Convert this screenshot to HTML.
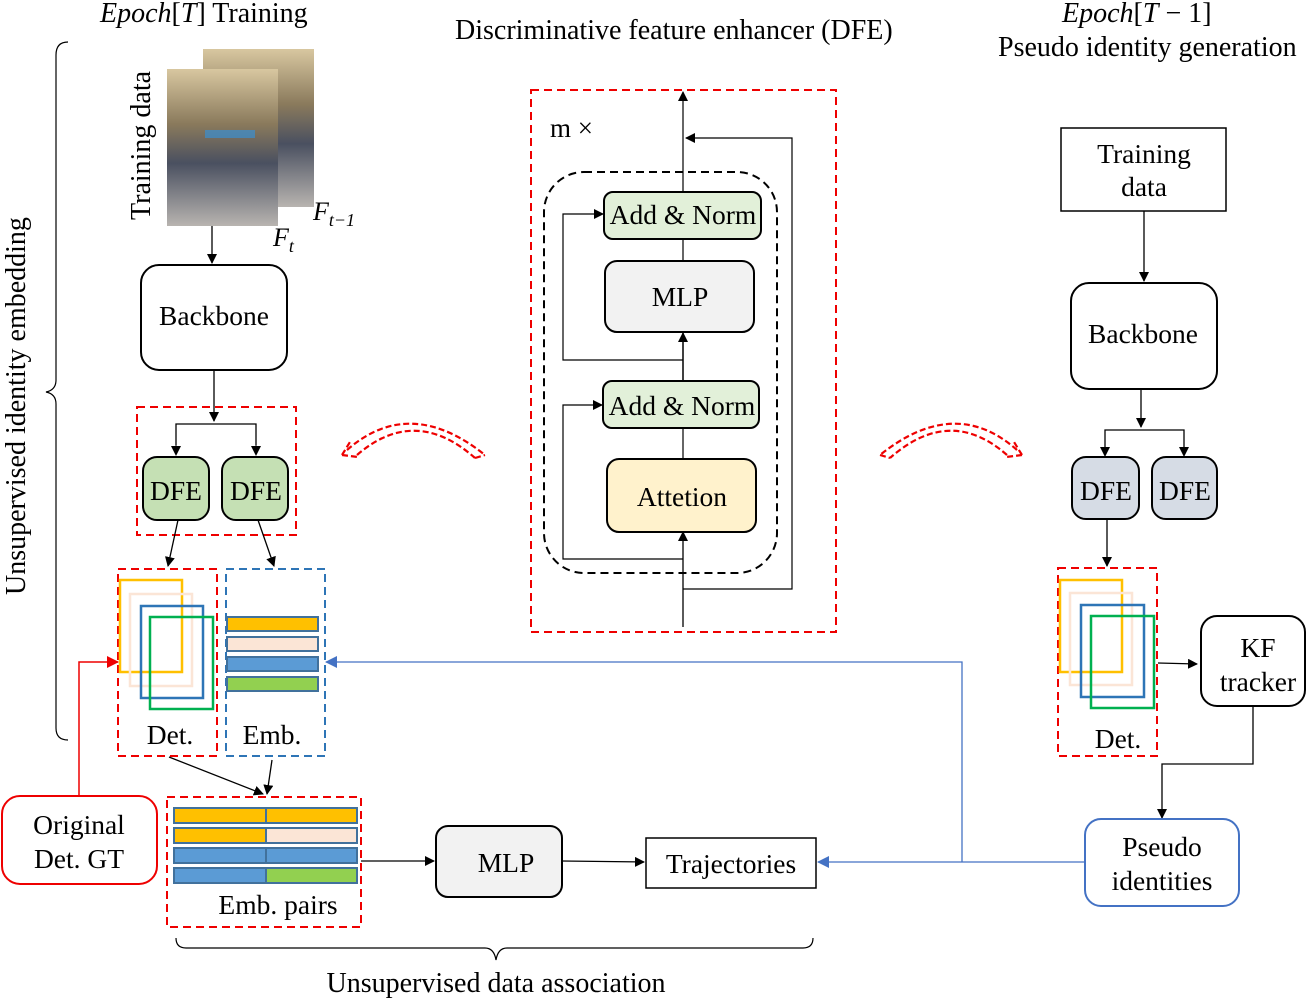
<!DOCTYPE html>
<html><head><meta charset="utf-8"><style>
html,body{margin:0;padding:0;background:#fff;}
svg{display:block;font-family:"Liberation Serif",serif;}
</style></head><body>
<svg width="1308" height="998" viewBox="0 0 1308 998" xmlns="http://www.w3.org/2000/svg">
<defs>
<marker id="a" markerWidth="10" markerHeight="10" refX="9" refY="5" orient="auto" markerUnits="userSpaceOnUse"><path d="M0,0 L10,5 L0,10 z" fill="#000"/></marker>
<marker id="ab" markerWidth="12" markerHeight="12" refX="11" refY="6" orient="auto" markerUnits="userSpaceOnUse"><path d="M0,0 L12,6 L0,12 z" fill="#4472c4"/></marker>
<marker id="ar" markerWidth="12" markerHeight="12" refX="11" refY="6" orient="auto" markerUnits="userSpaceOnUse"><path d="M0,0 L12,6 L0,12 z" fill="#e00"/></marker>
<linearGradient id="ph" x1="0" y1="0" x2="0" y2="1">
<stop offset="0" stop-color="#d8c7a0"/><stop offset="0.35" stop-color="#8a7a5c"/><stop offset="0.6" stop-color="#4a5060"/><stop offset="1" stop-color="#b8b4b0"/></linearGradient>
</defs>
<g font-size="27.5" fill="#000">
<!-- titles -->
<text x="100" y="22" font-size="28"><tspan font-style="italic">Epoch</tspan>[<tspan font-style="italic">T</tspan>] Training</text>
<text x="455" y="39" font-size="28">Discriminative feature enhancer (DFE)</text>
<text x="1062" y="22" font-size="28"><tspan font-style="italic">Epoch</tspan>[<tspan font-style="italic">T</tspan> − 1]</text>
<text x="998" y="56" font-size="28">Pseudo identity generation</text>

<!-- left brace -->
<path d="M68,42 Q56,42 56,55 L56,380 Q56,390 46,392 Q56,394 56,404 L56,728 Q56,740 68,740" fill="none" stroke="#000" stroke-width="1.2"/>
<text transform="translate(25,595) rotate(-90)" font-size="28">Unsupervised identity embedding</text>

<!-- photos -->
<rect x="203" y="49" width="111" height="158" fill="url(#ph)"/>
<rect x="167" y="69" width="111" height="157" fill="url(#ph)"/>
<rect x="205" y="130" width="50" height="8" fill="#3a8fd0" opacity="0.7"/>
<text transform="translate(150,220) rotate(-90)" font-size="28">Training data</text>
<text x="313" y="220" font-style="italic" font-size="26">F<tspan font-size="18" dy="6">t−1</tspan></text>
<text x="273" y="246" font-style="italic" font-size="26">F<tspan font-size="18" dy="6">t</tspan></text>
<line x1="212" y1="226" x2="212" y2="263" stroke="#000" stroke-width="1.3" marker-end="url(#a)"/>

<!-- backbone left -->
<rect x="141" y="265" width="146" height="105" rx="18" fill="#fff" stroke="#000" stroke-width="2"/>
<text x="214" y="325" text-anchor="middle">Backbone</text>
<line x1="214" y1="370" x2="214" y2="421" stroke="#000" stroke-width="1.3" marker-end="url(#a)"/>
<rect x="137" y="407" width="159" height="128" fill="none" stroke="#e00" stroke-width="2" stroke-dasharray="8,5"/>
<path d="M176,445 L176,424 L256,424 L256,445" fill="none" stroke="#000" stroke-width="1.3"/>
<line x1="176" y1="440" x2="176" y2="455" stroke="#000" marker-end="url(#a)"/>
<line x1="256" y1="440" x2="256" y2="455" stroke="#000" marker-end="url(#a)"/>
<rect x="143" y="457" width="66" height="63" rx="14" fill="#c5e0b4" stroke="#000" stroke-width="2"/>
<rect x="222" y="457" width="66" height="63" rx="14" fill="#c5e0b4" stroke="#000" stroke-width="2"/>
<text x="176" y="500" text-anchor="middle">DFE</text>
<text x="256" y="500" text-anchor="middle">DFE</text>
<line x1="178" y1="520" x2="168" y2="566" stroke="#000" stroke-width="1.3" marker-end="url(#a)"/>
<line x1="258" y1="520" x2="274" y2="566" stroke="#000" stroke-width="1.3" marker-end="url(#a)"/>

<!-- Det left -->
<rect x="118" y="569" width="99" height="187" fill="none" stroke="#e00" stroke-width="2" stroke-dasharray="8,5"/>
<rect x="120" y="580" width="62" height="92" fill="none" stroke="#ffc000" stroke-width="2.5"/>
<rect x="130" y="594" width="62" height="92" fill="none" stroke="#fbe5d6" stroke-width="2.5"/>
<rect x="141" y="606" width="62" height="92" fill="none" stroke="#2e75b6" stroke-width="2.5"/>
<rect x="150" y="617" width="63" height="92" fill="none" stroke="#00b050" stroke-width="2.5"/>
<text x="170" y="744" text-anchor="middle">Det.</text>
<!-- Emb left -->
<rect x="226" y="569" width="99" height="187" fill="none" stroke="#2e75b6" stroke-width="2" stroke-dasharray="8,5"/>
<rect x="227" y="617" width="91" height="14" fill="#ffc000" stroke="#41719c" stroke-width="2"/>
<rect x="227" y="637" width="91" height="14" fill="#fbe5d6" stroke="#41719c" stroke-width="2"/>
<rect x="227" y="657" width="91" height="14" fill="#5b9bd5" stroke="#41719c" stroke-width="2"/>
<rect x="227" y="677" width="91" height="14" fill="#92d050" stroke="#41719c" stroke-width="2"/>
<text x="272" y="744" text-anchor="middle">Emb.</text>

<line x1="169" y1="757" x2="263" y2="794" stroke="#000" stroke-width="1.3" marker-end="url(#a)"/>
<line x1="272" y1="760" x2="267" y2="794" stroke="#000" stroke-width="1.3" marker-end="url(#a)"/>

<!-- Original Det GT -->
<rect x="2" y="796" width="155" height="88" rx="18" fill="#fff" stroke="#e00" stroke-width="2"/>
<text x="79" y="834" text-anchor="middle">Original</text>
<text x="79" y="868" text-anchor="middle">Det. GT</text>
<path d="M79,796 L79,662 L118,662" fill="none" stroke="#e00" stroke-width="1.5" marker-end="url(#ar)"/>

<!-- Emb pairs -->
<rect x="167" y="797" width="194" height="130" fill="none" stroke="#e00" stroke-width="2" stroke-dasharray="8,5"/>
<g stroke="#41719c" stroke-width="2">
<rect x="174" y="808" width="92" height="15" fill="#ffc000"/><rect x="266" y="808" width="91" height="15" fill="#ffc000"/>
<rect x="174" y="828" width="92" height="15" fill="#ffc000"/><rect x="266" y="828" width="91" height="15" fill="#fbe5d6"/>
<rect x="174" y="848" width="92" height="15" fill="#5b9bd5"/><rect x="266" y="848" width="91" height="15" fill="#5b9bd5"/>
<rect x="174" y="868" width="92" height="15" fill="#5b9bd5"/><rect x="266" y="868" width="91" height="15" fill="#92d050"/>
</g>
<text x="278" y="914" text-anchor="middle">Emb. pairs</text>
<line x1="361" y1="861" x2="434" y2="861" stroke="#000" stroke-width="1.3" marker-end="url(#a)"/>
<rect x="436" y="826" width="126" height="71" rx="12" fill="#f2f2f2" stroke="#000" stroke-width="2"/>
<text x="506" y="872" text-anchor="middle">MLP</text>
<line x1="562" y1="861" x2="644" y2="862" stroke="#000" stroke-width="1.3" marker-end="url(#a)"/>
<rect x="646" y="838" width="170" height="50" fill="#fff" stroke="#000" stroke-width="1.5"/>
<text x="731" y="873" text-anchor="middle">Trajectories</text>

<!-- bottom brace -->
<path d="M176,938 Q176,948 186,948 L485,948 Q494,948 496,960 Q498,948 507,948 L803,948 Q813,948 813,938" fill="none" stroke="#000" stroke-width="1.2"/>
<text x="496" y="992" text-anchor="middle" font-size="28">Unsupervised data association</text>

<!-- DFE center -->
<rect x="531" y="90" width="305" height="542" fill="none" stroke="#e00" stroke-width="2" stroke-dasharray="8,5"/>
<text x="550" y="137" font-size="27">m ×</text>
<rect x="544" y="172" width="233" height="401" rx="40" fill="none" stroke="#000" stroke-width="2" stroke-dasharray="8,5"/>
<line x1="683" y1="627" x2="683" y2="532" stroke="#000" stroke-width="1.3" marker-end="url(#a)"/>
<path d="M683,589 L792,589 L792,138 L686,138" fill="none" stroke="#000" stroke-width="1.2" marker-end="url(#a)"/>
<path d="M683,559 L563,559 L563,405 L602,405" fill="none" stroke="#000" stroke-width="1.2" marker-end="url(#a)"/>
<line x1="683" y1="459" x2="683" y2="428" stroke="#000" stroke-width="1.2"/>
<line x1="683" y1="381" x2="683" y2="333" stroke="#000" stroke-width="1.5" marker-end="url(#a)"/>
<path d="M683,360 L563,360 L563,214 L603,214" fill="none" stroke="#000" stroke-width="1.2" marker-end="url(#a)"/>
<line x1="683" y1="261" x2="683" y2="239" stroke="#000" stroke-width="1.2"/>
<line x1="683" y1="192" x2="683" y2="92" stroke="#000" stroke-width="1.2" marker-end="url(#a)"/>
<rect x="604" y="192" width="157" height="47" rx="9" fill="#e2f0d9" stroke="#000" stroke-width="2"/>
<text x="683" y="224" text-anchor="middle">Add &amp; Norm</text>
<rect x="605" y="261" width="149" height="71" rx="12" fill="#f2f2f2" stroke="#000" stroke-width="2"/>
<text x="680" y="306" text-anchor="middle">MLP</text>
<rect x="603" y="381" width="156" height="47" rx="9" fill="#e2f0d9" stroke="#000" stroke-width="2"/>
<text x="682" y="415" text-anchor="middle">Add &amp; Norm</text>
<rect x="607" y="459" width="149" height="73" rx="12" fill="#fff2cc" stroke="#000" stroke-width="2"/>
<text x="682" y="506" text-anchor="middle">Attetion</text>

<!-- curved dashed arrows -->
<g fill="none" stroke="#e00" stroke-width="2.2" stroke-dasharray="6,3">
<path d="M347,450 Q410,395 485,455"/><path d="M357,455 Q415,405 475,458"/>
<path d="M475,458 L485,455"/><path d="M342,455 L350,442 M342,455 L358,457"/>
<path d="M1017,450 Q955,395 880,455"/><path d="M1007,455 Q950,405 890,458"/>
<path d="M880,455 L890,458"/><path d="M1022,455 L1014,442 M1022,455 L1006,457"/>
</g>

<!-- right column -->
<rect x="1061" y="128" width="165" height="83" fill="#fff" stroke="#000" stroke-width="1.5"/>
<text x="1144" y="163" text-anchor="middle">Training</text>
<text x="1144" y="196" text-anchor="middle">data</text>
<line x1="1144" y1="211" x2="1144" y2="281" stroke="#000" stroke-width="1.3" marker-end="url(#a)"/>
<rect x="1071" y="283" width="146" height="106" rx="18" fill="#fff" stroke="#000" stroke-width="2"/>
<text x="1143" y="343" text-anchor="middle">Backbone</text>
<line x1="1141" y1="389" x2="1141" y2="427" stroke="#000" stroke-width="1.3" marker-end="url(#a)"/>
<path d="M1105,455 L1105,430 L1184,430 L1184,455" fill="none" stroke="#000" stroke-width="1.3"/>
<line x1="1105" y1="445" x2="1105" y2="456" stroke="#000" marker-end="url(#a)"/>
<line x1="1184" y1="445" x2="1184" y2="456" stroke="#000" marker-end="url(#a)"/>
<rect x="1072" y="457" width="67" height="62" rx="14" fill="#d6dce5" stroke="#000" stroke-width="2"/>
<rect x="1152" y="457" width="65" height="62" rx="14" fill="#d6dce5" stroke="#000" stroke-width="2"/>
<text x="1106" y="500" text-anchor="middle">DFE</text>
<text x="1185" y="500" text-anchor="middle">DFE</text>
<line x1="1107" y1="519" x2="1107" y2="566" stroke="#000" stroke-width="1.3" marker-end="url(#a)"/>
<rect x="1058" y="568" width="99" height="188" fill="none" stroke="#e00" stroke-width="2" stroke-dasharray="8,5"/>
<rect x="1060" y="580" width="62" height="92" fill="none" stroke="#ffc000" stroke-width="2.5"/>
<rect x="1070" y="593" width="62" height="92" fill="none" stroke="#fbe5d6" stroke-width="2.5"/>
<rect x="1081" y="605" width="63" height="92" fill="none" stroke="#2e75b6" stroke-width="2.5"/>
<rect x="1091" y="616" width="63" height="92" fill="none" stroke="#00b050" stroke-width="2.5"/>
<text x="1118" y="748" text-anchor="middle">Det.</text>
<line x1="1158" y1="663" x2="1197" y2="664" stroke="#000" stroke-width="1.3" marker-end="url(#a)"/>
<rect x="1201" y="616" width="104" height="90" rx="16" fill="#fff" stroke="#000" stroke-width="2"/>
<text x="1258" y="657" text-anchor="middle">KF</text>
<text x="1258" y="691" text-anchor="middle">tracker</text>
<path d="M1253,706 L1253,764 L1162,764 L1162,818" fill="none" stroke="#000" stroke-width="1.3" marker-end="url(#a)"/>
<rect x="1085" y="819" width="154" height="87" rx="16" fill="#fff" stroke="#4472c4" stroke-width="2"/>
<text x="1162" y="856" text-anchor="middle">Pseudo</text>
<text x="1162" y="890" text-anchor="middle">identities</text>
<line x1="1085" y1="862" x2="818" y2="862" stroke="#4472c4" stroke-width="1.3" marker-end="url(#ab)"/>
<path d="M962,862 L962,662 L326,662" fill="none" stroke="#4472c4" stroke-width="1.3" marker-end="url(#ab)"/>
</g>
</svg>
</body></html>
